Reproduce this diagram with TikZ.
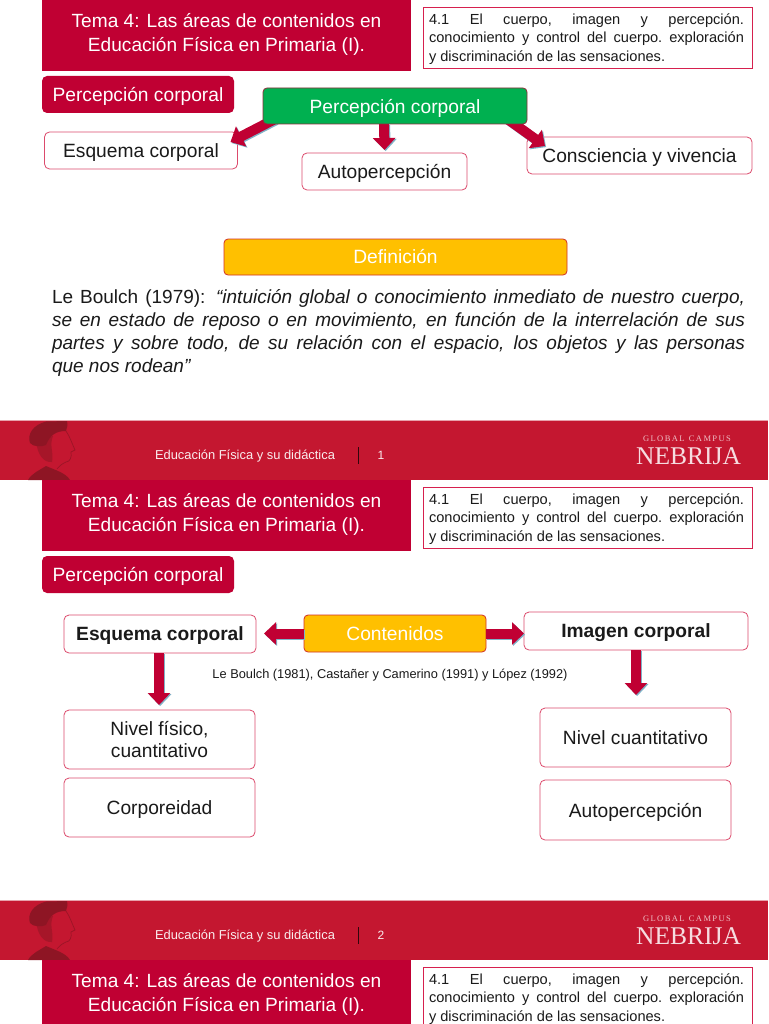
\documentclass[tikz,border=0pt]{standalone}
\usepackage{fontspec}
\setmainfont{Liberation Sans}
\newfontfamily\logofont{Liberation Serif}
\usetikzlibrary{arrows.meta}
\pgfdeclarelayer{front}
\pgfsetlayers{main,front}
\definecolor{titlered}{HTML}{C00033}
\definecolor{topicred}{HTML}{D6204E}
\definecolor{bandred}{HTML}{C41730}
\definecolor{darkred}{HTML}{8E1524}
\definecolor{edgepink}{HTML}{DC4A6C}
\definecolor{okgreen}{HTML}{00B050}
\definecolor{amber}{HTML}{FFC000}
\definecolor{shadowblue}{HTML}{7FB3C8}
\definecolor{inktext}{HTML}{1A1A1A}
\newcommand\fs[1]{\fontsize{#1}{#1}\selectfont}
\tikzset{
  every node/.style={inner sep=0pt,outer sep=0pt},
  x=1pt,y=-1pt,
  sized/.style 2 args={minimum width=#1pt,minimum height=#2pt},
  lowered/.style={text depth=0pt},
  whitebox/.style={draw=edgepink,fill=white,rounded corners=5pt,line width=0.8pt,text=inktext,font=\fs{19.2},align=center},
  colorbox/.style={draw=titlered!75!#1,fill=#1,rounded corners=4pt,line width=0.8pt,text=white,font=\fs{19.2},align=center},
  titlebox/.style={fill=titlered,text=white,font=\fs{19.1},align=center,text depth=6pt},
  tabbox/.style={fill=titlered,text=white,font=\fs{19.2},rounded corners=5pt,lowered},
  topicbox/.style={draw=topicred,fill=white,line width=0.9pt,text=inktext},
  blockarrow/.style={
    draw=titlered,line width=10pt,
    -{Triangle[width=22pt,length=12pt]},
    preaction={draw=shadowblue,line width=10pt,-{Triangle[width=22pt,length=12pt]},transform canvas={shift={(1.1pt,-1.1pt)}}}
  },
  bandtext/.style={text=white!92!bandred,font=\fs{12.9}},
}
\newcommand\slidehead[2]{%
  \begin{scope}[yshift=-#2pt]
    \node[titlebox,sized={369}{71}] (title#1) at (226.5,35.5) {Tema 4: Las áreas de contenidos en\\[4pt]Educación Física en Primaria (I).};
    \node[topicbox,sized={329}{61}] (topic#1) at (587.5,37.5) {};
    \node[text width=315pt,align=justify,font=\fontsize{14.6}{18.2}\selectfont\frenchspacing,text=inktext] (topictext#1) at (586.5,39)
      {4.1 El cuerpo, imagen y percepción.\linebreak conocimiento y control del cuerpo. exploración\linebreak y discriminación de las sensaciones.};
  \end{scope}}
\newcommand\slidefoot[3]{%
  \begin{scope}[yshift=-#2pt]
    \fill[bandred] (0,420) rectangle (768,480);
    \draw[white!60!bandred,line width=0.7pt] (0,420.4) -- (768,420.4);
    \fill[darkred!55!bandred] (36,440) -- (53,436) .. controls (49,446) and (54,452) .. (52,462) .. controls (44,463) and (37,455) .. (36,440) -- cycle;
    \fill[darkred] (30,443) .. controls (27,434) and (33,425) .. (46,421.5) -- (67,421) .. controls (68,425) and (67,428) .. (66,431)
       .. controls (56,431) and (50,435) .. (46,445) .. controls (42,447) and (33,447) .. (30,443) -- cycle;
    \draw[darkred!75!bandred,line width=0.7pt] (66,431) .. controls (70,437) and (71,441) .. (75,450) -- (71,452) .. controls (72,457) and (70,462) .. (66,462)
       .. controls (62,464) and (59,466) .. (57,469);
    \fill[darkred] (28,480) .. controls (32,473) and (40,470) .. (46,466) .. controls (55,470) and (66,473) .. (70,480) -- cycle;
    \node[bandtext,anchor=west] (course#1) at (155,456) {Educación Física y su didáctica};
    \draw[black!75!bandred,line width=0.8pt] (358,447) -- (358,464);
    \node[bandtext,font=\fs{12}] (page#1) at (381,455.5) {#3};
    \node[font=\logofont\fs{8.5},text=white!72!bandred] (gc#1) at (687,438.5) {G\,L\,O\,B\,A\,L\ \ C\,A\,M\,P\,U\,S};
    \node[font=\logofont\fs{25.5},text=white!85!bandred] (neb#1) at (688.5,456.5) {NEBRIJA};
  \end{scope}}
\begin{document}
\begin{tikzpicture}
\path[use as bounding box,clip] (0,0) rectangle (768,1024);
\fill[white] (0,0) rectangle (768,1024);

% ---- slide 1
\slidehead{a}{0}
\node[tabbox,sized={192}{37}] (taba) at (138,94.5) {Percepción corporal};
\begin{pgfonlayer}{front}
\node[colorbox=okgreen,sized={264}{36},lowered] (root) at (395,106) {Percepción corporal};
\end{pgfonlayer}
\node[whitebox,sized={193}{37},lowered] (esq) at (141,150.5) {Esquema corporal};
\node[whitebox,sized={165}{37},lowered] (auto) at (384.5,171.5) {Autopercepción};
\node[whitebox,sized={225}{37},lowered] (cons) at (639.5,155.5) {Consciencia y vivencia};
\draw[blockarrow] ([xshift=12pt,yshift=5pt]root.south west) -- ([xshift=-7pt,yshift=-10pt]esq.north east);
\draw[blockarrow] ([xshift=-11pt]root.south) -- ([yshift=3pt]auto.north);
\draw[blockarrow] ([xshift=-21pt,yshift=6pt]root.south east) -- ([xshift=18pt,yshift=-9pt]cons.north west);
\node[colorbox=amber,sized={343}{36}] (defn) at (395.5,257) {Definición};
\node[text width=693pt,align=justify,font=\fontsize{19}{23}\selectfont,text=inktext,anchor=north west] (quote) at (52,290)
 {Le Boulch (1979): \textit{“intuición global o conocimiento inmediato de nuestro cuerpo,\linebreak se en estado de reposo o en movimiento, en función de la interrelación de sus\linebreak partes y sobre todo, de su relación con el espacio, los objetos y las personas\linebreak que nos rodean”}};
\slidefoot{a}{0}{1}

% ---- slide 2
\slidehead{b}{480}
\node[tabbox,sized={192}{37}] (tabb) at (138,574.5) {Percepción corporal};
\node[whitebox,sized={192}{38},font=\fs{19.2}\bfseries,lowered] (esqb) at (160,634) {Esquema corporal};
\node[colorbox=amber,sized={182}{37}] (cont) at (395,633.5) {Contenidos};
\node[whitebox,sized={224}{38},font=\fs{19.2}\bfseries,lowered] (img) at (636,631) {Imagen corporal};
\node[font=\fs{12.8},text=inktext] (cite) at (390,675.5) {Le Boulch (1981), Castañer y Camerino (1991) y López (1992)};
\node[whitebox,sized={191}{59}] (fis) at (159.5,739.5) {Nivel físico,\\[3pt]cuantitativo};
\node[whitebox,sized={191}{59},lowered] (corp) at (159.5,807.5) {Corporeidad};
\node[whitebox,sized={191}{59},lowered] (cuant) at (635.5,737.5) {Nivel cuantitativo};
\node[whitebox,sized={191}{60},lowered] (autob) at (635.5,810) {Autopercepción};
\draw[blockarrow] (cont.west) -- ([xshift=8pt]cont.west -| esqb.east);
\draw[blockarrow] (cont.east) -- (cont.east -| img.west);
\draw[blockarrow] ([xshift=-1pt]esqb.south) -- ([xshift=-1pt,yshift=5pt]esqb.south |- fis.north);
\draw[blockarrow] (img.south) -- ([yshift=13pt]img.south |- cuant.north);
\slidefoot{b}{480}{2}

% ---- slide 3
\slidehead{c}{960}
\end{tikzpicture}
\end{document}
